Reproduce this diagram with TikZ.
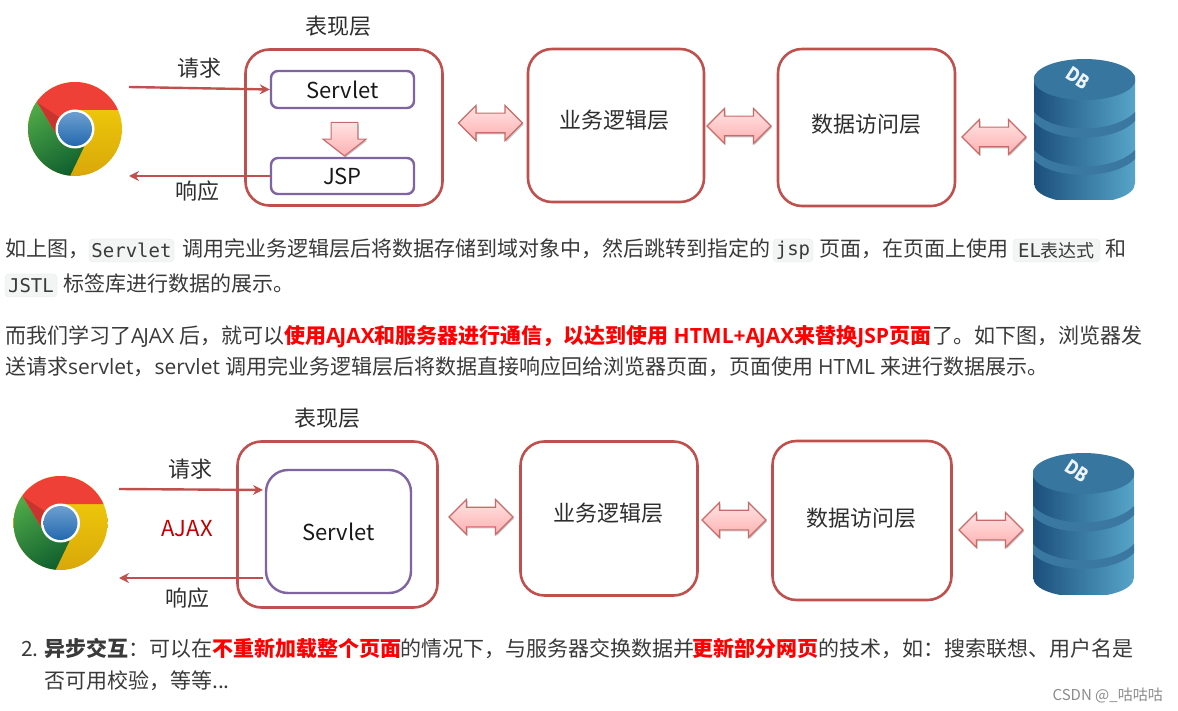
\documentclass[tikz,border=0pt]{standalone}
\usepackage{fontspec}
\usepackage{graphicx}
\setmainfont{Noto Sans CJK SC}
\newfontfamily\monof{DejaVu Sans Mono}
\newfontfamily\dbf{DejaVu Sans}
\newfontfamily\latf{Open Sans}
\usetikzlibrary{arrows.meta,shapes.arrows,shadows}
\definecolor{boxred}{HTML}{C0504D}
\definecolor{boxpurple}{HTML}{8064A2}
\definecolor{bodytxt}{HTML}{3A3A3A}
\definecolor{hot}{HTML}{FE0000}
\definecolor{ajax}{HTML}{C00000}
\definecolor{chipbg}{HTML}{F3F4F4}
\definecolor{chipln}{HTML}{E9EAEA}
\definecolor{crRed}{HTML}{EF4038}
\definecolor{crRedD}{HTML}{C9352E}
\definecolor{crYel}{HTML}{F6D20A}
\definecolor{crYelD}{HTML}{D8A80A}
\definecolor{crGrn}{HTML}{4FA848}
\definecolor{crGrnD}{HTML}{0A5A2C}
\definecolor{crBluL}{HTML}{6C9FD0}
\definecolor{crBluD}{HTML}{2469AE}
\definecolor{dbL}{HTML}{1B4F7C}
\definecolor{dbR}{HTML}{57A5C9}
\definecolor{dbTop}{HTML}{37769E}
\definecolor{dbBand}{HTML}{3A78A2}
\definecolor{pinkT}{HTML}{FFE3E3}
\definecolor{pinkB}{HTML}{FFB0B0}
\newcommand{\fs}[1]{\fontsize{#1}{#1}\selectfont}
\newcommand{\ajx}{A\kern-1.2pt JAX}
\tikzset{
 layer/.style={draw=boxred,line width=2.6pt,rounded corners=24pt,fill=white,inner sep=0pt},
 inner box/.style={draw=boxpurple,line width=2.4pt,fill=white,inner sep=0pt,text=black!90,font=\fs{22}},
 lbl/.style={inner sep=0pt,text=black!82,font=\fs{22}},
 flow/.style={draw=boxred,line width=2.4pt,-{Stealth[length=10pt,width=10pt]}},
 dbl/.style={double arrow,draw=boxred!85,line width=1.1pt,top color=pinkT,bottom color=pinkB,
   minimum height=64pt,minimum width=35pt,inner sep=8.5pt,double arrow head indent=0pt,double arrow tip angle=90,
   drop shadow={shadow xshift=1pt,shadow yshift=-1.5pt,opacity=.22,fill=black}},
 down/.style={single arrow,shape border rotate=270,draw=boxred!85,line width=1.1pt,top color=pinkT,bottom color=pinkB,
   minimum height=32pt,minimum width=43pt,inner sep=11pt,single arrow head indent=0pt,single arrow tip angle=104,
   drop shadow={shadow xshift=1pt,shadow yshift=-1.5pt,opacity=.22,fill=black}},
 para/.style={anchor=base west,inner sep=0pt,text=bodytxt,font=\fs{21}},
 red para/.style={anchor=base west,inner sep=0pt,text=hot,font=\fs{21}\bfseries},
 chip/.style={draw=chipln,fill=chipbg,rounded corners=4pt,inner sep=0pt,minimum height=23pt,text=bodytxt,font=\monof\fs{19}},
 dbmark/.style={rotate=-33,inner sep=0pt,text=white!88!dbR,font=\dbf\fs{15}\bfseries},
}
% Chrome logo
\newcommand{\chromelogo}[2]{%
 \begin{scope}[shift={(#1,#2)}]
  \begin{scope}
   \clip (0,0) circle (47);
   \path[top color=crYel,bottom color=crYelD] (-47,-47) rectangle (47,47);
   \path[top color=crGrn,middle color=crGrn,bottom color=crGrnD,shading angle=30] (-60,-27) -- (-60,60) -- (-5,60) -- (-5,47) -- (9,18) -- (-19.5,4) -- (-38,-27) -- cycle;
   \path[fill=crRedD] (-38,-27) -- (-19.5,4) -- (-8,-10) -- cycle;
   \path[fill=crRed] (-38,-27) -- (-16,-12) -- (0,-19) -- (47,-19) -- (60,-60) -- (-60,-60) -- cycle;
  \end{scope}
  \fill[white] (0,0) circle (19.5);
  \path[top color=crBluL,bottom color=crBluD] (0,0) circle (17);
 \end{scope}}
% Database cylinder
\newcommand{\dbcyl}[2]{%
 \begin{scope}[shift={(#1,#2)}]
  \begin{scope}
   \clip (0,0) rectangle (101,141);
   \path[left color=dbL,right color=dbR] (0,20) -- (0,124) .. controls (0,150.7) and (101,150.7) .. (101,124) -- (101,20) -- cycle;
   \fill[dbBand] (0,53) .. controls (20,75) and (80,75) .. (101,53) -- (101,62) .. controls (80,84) and (20,84) .. (0,63) -- cycle;
   \fill[dbBand] (0,91) .. controls (20,113) and (80,113) .. (101,91) -- (101,100) .. controls (80,121) and (20,121) .. (0,101) -- cycle;
   \fill[dbTop] (50.5,20.5) ellipse (51 and 20.5);
  \end{scope}
 \end{scope}}
\begin{document}
\begin{tikzpicture}[x=1pt,y=-1pt]
\useasboundingbox (0,0) rectangle (1178,711);
\fill[white] (0,0) rectangle (1178,711);

% ---- top diagram
\chromelogo{75}{129}
\node[lbl] (t1) at (338,26) {表现层};
\node[layer,minimum width=197pt,minimum height=156pt] (p1) at (344,127.5) {};
\node[inner box,rounded corners=7pt,minimum width=143pt,minimum height=37pt] (s1) at (342.5,89.5) {Servlet};
\node[inner box,rounded corners=7pt,minimum width=143pt,minimum height=36pt] (j1) at (342.5,176) {JSP};
\node[down] (d1) at (344.5,134) {};
\coordinate (c1a) at (129,87);
\coordinate (c1b) at (129,176);
\draw[flow] (c1a) -- (s1.west);
\draw[flow] (j1.west) -- (c1b);
\node[lbl] (q1) at (199,68) {请求};
\node[lbl] (r1) at (197,191) {响应};
\node[layer,minimum width=176pt,minimum height=153pt] (b1) at (616,125.5) {};
\node[lbl] (b1t) at (614,120) {业务逻辑层};
\node[layer,minimum width=177pt,minimum height=157pt] (a1) at (866.5,127.5) {};
\node[lbl] (a1t) at (866,124) {数据访问层};
\node[dbl] (x1) at (490.5,123) {};
\node[dbl] (x2) at (739,126) {};
\node[dbl] (x3) at (994,137) {};
\dbcyl{1034}{59}
\node[dbmark] (db1) at (1078,78) {\scalebox{1}[1.3]{DB}};

% ---- paragraphs
\node[para] (l1a) at (5,257) {如上图，};
\node[chip,minimum width=85pt] (l1b) at (131.5,250.5) {Servlet};
\node[para] (l1c) at (182,257) {调用完业务逻辑层后将数据存储到域对象中，然后跳转到指定的};
\node[chip,minimum width=40pt] (l1d) at (793,250.5) {jsp};
\node[para] (l1e) at (819,257) {页面，在页面上使用};
\node[chip,minimum width=87pt] (l1f) at (1056.5,250.5) {EL{\rmfamily\fs{18}表达式}};
\node[para] (l1g) at (1105,257) {和};
\node[chip,minimum width=52pt] (l2a) at (31,285.5) {JSTL};
\node[para] (l2b) at (63,292) {标签库进行数据的展示。};
\node[para] (l3a) at (5,343) {而我们学习了{\latf\ajx\ }后，就可以};
\node[red para] (l3b) at (284,343) {使用{\latf\ajx}和服务器进行通信，以达到使用 {\latf HTML+\ajx}来替换{\latf JSP}页面};
\node[para] (l3c) at (932,343) {了。如下图，浏览器发};
\node[para] (l4) at (5,374) {送请求{\latf servlet}，{\latf servlet }调用完业务逻辑层后将数据直接响应回给浏览器页面，页面使用 {\latf HTML }来进行数据展示。};

% ---- bottom diagram
\chromelogo{60.5}{523}
\node[lbl] (t2) at (327,418) {表现层};
\node[layer,minimum width=200pt,minimum height=166pt] (p2) at (337.5,524.5) {};
\node[inner box,rounded corners=22pt,minimum width=145pt,minimum height=123pt] (s2) at (338.5,531.5) {Servlet};
\coordinate (c2a) at (119,489);
\coordinate (c2b) at (119,578);
\coordinate (s2a) at (263,490);
\coordinate (s2b) at (263,578);
\draw[flow] (c2a) -- (s2a);
\draw[flow] (s2b) -- (c2b);
\node[lbl] (q2) at (190,469) {请求};
\node[lbl,text=ajax] (aj) at (187,529) {AJAX};
\node[lbl] (r2) at (187,598) {响应};
\node[layer,minimum width=177pt,minimum height=154pt] (b2) at (609,518.5) {};
\node[lbl] (b2t) at (608,513) {业务逻辑层};
\node[layer,minimum width=179pt,minimum height=159pt] (a2) at (862,520.5) {};
\node[lbl] (a2t) at (861,518) {数据访问层};
\node[dbl] (x4) at (481,517) {};
\node[dbl] (x5) at (734,520) {};
\node[dbl] (x6) at (991,530) {};
\dbcyl{1033}{453}
\node[dbmark] (db2) at (1077,471) {\scalebox{1}[1.3]{DB}};

% ---- list item
\node[para] (n2) at (21,656) {2.};
\node[para,font=\fs{21}\bfseries] (h1) at (44,656) {异步交互};
\node[para] (h2) at (128,656) {：可以在};
\node[red para] (h3) at (212,656) {不重新加载整个页面};
\node[para] (h4) at (400,656) {的情况下，与服务器交换数据并};
\node[red para] (h5) at (692,656) {更新部分网页};
\node[para] (h6) at (818,656) {的技术，如：搜索联想、用户名是};
\node[para] (h7) at (44,688) {否可用校验，等等...};
\node[anchor=base east,inner sep=0pt,text=black!45,font=\fs{15}] (wm) at (1163,700) {CSDN @\_咕咕咕};
\end{tikzpicture}
\end{document}
